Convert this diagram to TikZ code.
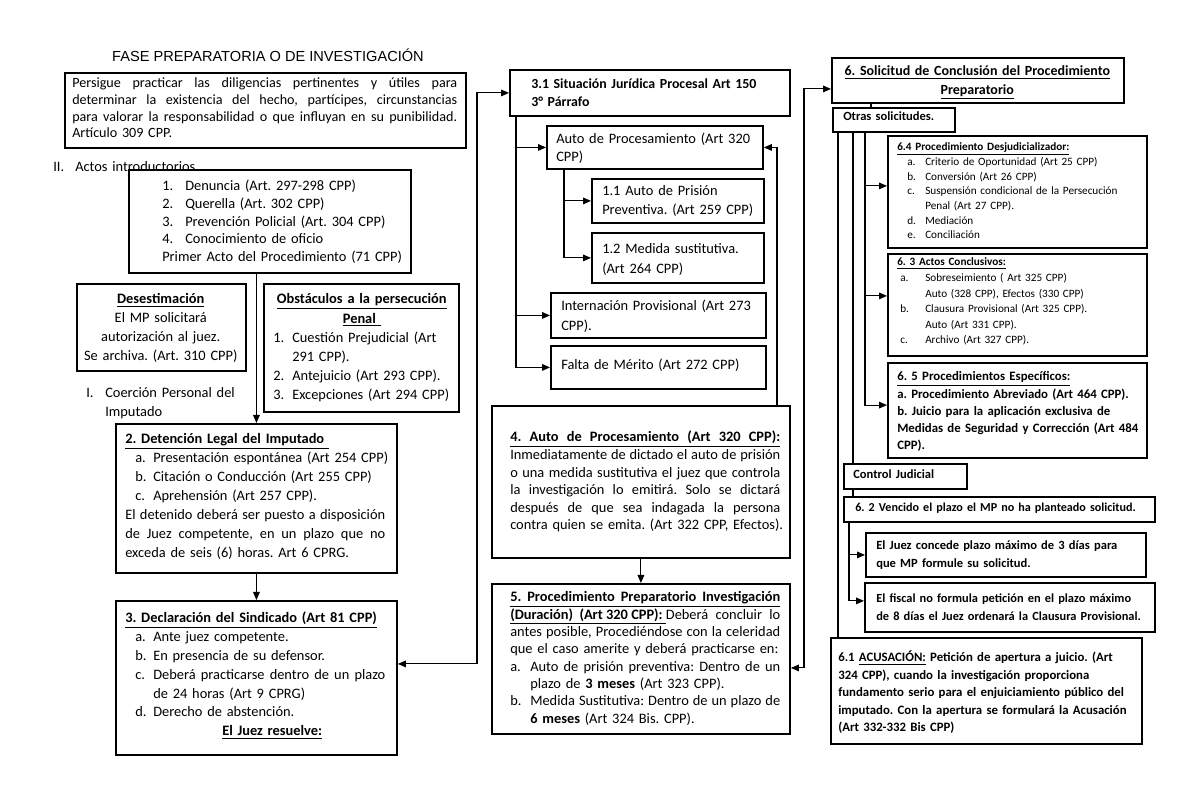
\documentclass[tikz,border=0pt]{standalone}
\usepackage{fontspec}
\setmainfont{Carlito}
\newfontfamily\titlefont{Liberation Sans}
\usetikzlibrary{arrows.meta}
\frenchspacing
\newcommand\fsz[2]{\fontsize{#1}{#2}\selectfont}
\newcommand\JL[1]{\makebox[\myjw pt][s]{\spaceskip=0pt\xspaceskip=0pt #1}}
\newcommand\CL[1]{\makebox[\myjw pt][c]{#1}}
\newcommand\LI[3]{\makebox[#1][l]{#2}#3}
\newcommand\JLI[3]{\makebox[#1][l]{#2}\makebox[\dimexpr\myjw pt-#1\relax][s]{\spaceskip=0pt\xspaceskip=0pt #3}}
\newcommand\mybx[5]{\pgfmathsetmacro\mybw{(#4-#2)*0.75}\pgfmathsetmacro\mybh{(#5-#3)*0.75}%
  \node[box,minimum width=\mybw pt,minimum height=\mybh pt,anchor=north west] (#1) at (#2,#3) {};}
\newcommand\mytx[6][]{\pgfmathsetmacro\myjw{#5*0.75}\pgfmathsetmacro\myjwx{#5*0.75+80}%
  \node[txt,text width=\myjwx pt,#1] (#2) at (#3,#4) {#6};}
\begin{document}
\begin{tikzpicture}[x=0.75pt,y=-0.75pt,
  box/.style={draw,line width=1.4pt,rectangle,inner sep=0pt},
  txt/.style={inner sep=0pt,align=left,anchor=base west},
  conn/.style={line width=0.8pt},
  arr/.style={conn,-{Triangle[length=6pt,width=5pt]}},
  darr/.style={conn,{Triangle[length=6pt,width=5pt]}-{Triangle[length=6pt,width=5pt]}}]
\useasboundingbox (0,0) rectangle (1200,787);

% ---------- column 1 ----------
\node[font=\titlefont\fsz{10.95}{12},inner sep=0pt] (title) at (268,55) {FASE PREPARATORIA O DE INVESTIGACIÓN};
\mybx{intro}{64}{72}{465}{147}
\mytx[font=\fsz{10.6}{12.4}]{introT}{72}{88}{385}{\JL{Persigue practicar las diligencias pertinentes y útiles para}\\
\JL{determinar la existencia del hecho, partícipes, circunstancias}\\
\JL{para valorar la responsabilidad o que influyan en su punibilidad.}\\
Artículo 309 CPP.}

\mytx[font=\fsz{10.8}{14}]{actosH}{53}{172}{200}{\LI{16.5pt}{II.}{Actos introductorios}}
\mybx{act}{128}{169}{410}{272}
\mytx[font=\fsz{10.8}{13.2}]{actT}{162}{191}{240}{\LI{17.25pt}{1.}{Denuncia (Art. 297-298 CPP)}\\
\LI{17.25pt}{2.}{Querella (Art. 302 CPP)}\\
\LI{17.25pt}{3.}{Prevención Policial (Art. 304 CPP)}\\
\LI{17.25pt}{4.}{Conocimiento de oficio}\\
Primer Acto del Procedimiento (71 CPP)}

\mybx{des}{76}{283}{245}{370}
\mytx[font=\fsz{10.8}{14.25}]{desT}{81}{304}{159}{\CL{\textbf{\underline{Desestimación}}}\\
\CL{El MP solicitará}\\ \CL{autorización al juez.}\\ \CL{Se archiva. (Art. 310 CPP)}}

\mybx{obs}{263}{283}{458}{411}
\mytx[font=\fsz{10.8}{14.4}]{obsT}{273}{304}{177}{\CL{\textbf{\underline{Obstáculos a la persecución}}}\\
\CL{\textbf{\underline{Penal\ }}}\\
\LI{14.25pt}{1.}{Cuestión Prejudicial (Art}\\
\hspace*{14.25pt}291 CPP).\\
\LI{14.25pt}{2.}{Antejuicio (Art 293 CPP).}\\
\LI{14.25pt}{3.}{Excepciones (Art 294 CPP)}}

\mytx[font=\fsz{10.8}{14}]{coerT}{86}{398}{150}{\LI{14.25pt}{I.}{Coerción Personal del}\\ \hspace*{14.25pt}Imputado}

\mybx{det}{115}{423}{396}{572}
\mytx[font=\fsz{10.8}{14.25}]{detT}{125}{444}{260}{\textbf{\underline{2. Detención Legal del Imputado\ }}\\
\LI{21pt}{\hspace*{7.5pt}a.}{Presentación espontánea (Art 254 CPP)}\\
\LI{21pt}{\hspace*{7.5pt}b.}{Citación o Conducción (Art 255 CPP)}\\
\LI{21pt}{\hspace*{7.5pt}c.}{Aprehensión (Art 257 CPP).}\\
\JL{El detenido deberá ser puesto a disposición}\\
\JL{de Juez competente, en un plazo que no}\\
exceda de seis (6) horas. Art 6 CPRG.}

\mybx{dec}{115}{600}{396}{754}
\mytx[font=\fsz{10.8}{14.1}]{decT}{125}{623}{260}{\textbf{\underline{3. Declaración del Sindicado (Art 81 CPP)}}\\
\LI{21pt}{\hspace*{7.5pt}a.}{Ante juez competente.}\\
\LI{21pt}{\hspace*{7.5pt}b.}{En presencia de su defensor.}\\
\JLI{21pt}{\hspace*{7.5pt}c.}{Deberá practicarse dentro de un plazo}\\
\hspace*{21pt}de 24 horas (Art 9 CPRG)\\
\LI{21pt}{\hspace*{7.5pt}d.}{Derecho de abstención.}\\
\hspace*{72.75pt}\textbf{\underline{El Juez resuelve:}}}

% ---------- column 2 ----------
\mybx{s31}{509}{69}{789}{115}
\mytx[font=\fsz{10.4}{13.5}\bfseries]{s31T}{531}{89}{245}{3.1 Situación Jurídica Procesal Art 150\\ 3° Párrafo}

\mybx{ap}{546}{125}{762}{168}
\mytx[font=\fsz{10.8}{13.5}]{apT}{556}{144}{200}{Auto de Procesamiento (Art 320\\ CPP)}
\mybx{m11}{591}{178}{763}{222}
\mytx[font=\fsz{10.8}{13.8}]{m11T}{602}{196}{160}{1.1 Auto de Prisión\\ Preventiva. (Art 259 CPP)}
\mybx{m12}{591}{232}{763}{282}
\mytx[font=\fsz{10.8}{14.5}]{m12T}{602}{254}{160}{1.2 Medida sustitutiva.\\ (Art 264 CPP)}
\mybx{int}{550}{292}{765}{337}
\mytx[font=\fsz{10.8}{14.5}]{intT}{561}{311}{200}{Internación Provisional (Art 273\\ CPP).}
\mybx{fal}{550}{345}{765}{388}
\mytx[font=\fsz{10.8}{14}]{falT}{561}{370}{200}{Falta de Mérito (Art 272 CPP)}

\mybx{n4}{491}{405}{789}{557}
\mytx[font=\fsz{10.8}{13.2}]{n4T}{510}{442}{270}{\underline{\textbf{\JL{4. Auto de Procesamiento (Art 320 CPP):}}}\\
\JL{Inmediatamente de dictado el auto de prisión}\\
\JL{o una medida sustitutiva el juez que controla}\\
\JL{la investigación lo emitirá. Solo se dictará}\\
\JL{después de que sea indagada la persona}\\
contra quien se emita. (Art 322 CPP, Efectos).}

\mybx{n5}{491}{583}{789}{733}
\mytx[font=\fsz{10.8}{13}]{n5T}{510}{602}{270}{\underline{\textbf{\JL{5. Procedimiento Preparatorio Investigación}}}\\
\JL{\textbf{\underline{(Duración)\ \ (Art 320 CPP):\ }}Deberá concluir lo}\\
\JL{antes posible, Procediéndose con la celeridad}\\
que el caso amerite y deberá practicarse en:\\
\JLI{15pt}{a.}{Auto de prisión preventiva: Dentro de un}\\
\hspace*{15pt}plazo de \textbf{3 meses} (Art 323 CPP).\\
\JLI{15pt}{b.}{Medida Sustitutiva: Dentro de un plazo de}\\
\hspace*{15pt}\textbf{6 meses} (Art 324 Bis. CPP).}

% ---------- column 3 ----------
\mybx{b6}{831}{57}{1123}{102}
\mytx[font=\fsz{10.5}{13.75}\bfseries]{b6T}{842}{76}{270}{\CL{\underline{6. Solicitud de Conclusión del Procedimiento}}\\ \CL{\underline{Preparatorio}}}
\mybx{otr}{832}{107}{954}{131}
\mytx[font=\fsz{9.4}{12}\bfseries]{otrT}{843}{121}{110}{Otras solicitudes.}

\mybx{b64}{887}{135}{1146}{247}
\mytx[font=\fsz{8.4}{11}]{b64T}{897}{151}{240}{\textbf{\underline{6.4 Procedimiento Desjudicializador:}}\\
\LI{21pt}{\hspace*{7.5pt}a.}{Criterio de Oportunidad (Art 25 CPP)}\\
\LI{21pt}{\hspace*{7.5pt}b.}{Conversión (Art 26 CPP)}\\
\LI{21pt}{\hspace*{7.5pt}c.}{Suspensión condicional de la Persecución}\\
\hspace*{21pt}Penal (Art 27 CPP).\\
\LI{21pt}{\hspace*{7.5pt}d.}{Mediación}\\
\LI{21pt}{\hspace*{7.5pt}e.}{Conciliación}}

\mybx{b63}{887}{253}{1146}{355}
\mytx[font=\fsz{8.4}{11.7}]{b63T}{897}{266}{240}{\textbf{\underline{6. 3 Actos Conclusivos:}}\\
\LI{21pt}{\hspace*{2.25pt}a.}{Sobreseimiento ( Art 325 CPP)}\\
\hspace*{21pt}Auto (328 CPP), Efectos (330 CPP)\\
\LI{21pt}{\hspace*{2.25pt}b.}{Clausura Provisional (Art 325 CPP).}\\
\hspace*{21pt}Auto (Art 331 CPP).\\
\LI{21pt}{\hspace*{2.25pt}c.}{Archivo (Art 327 CPP).}}

\mybx{b65}{887}{362}{1146}{457}
\mytx[font=\fsz{9.6}{12.9}\bfseries]{b65T}{897}{381}{245}{\underline{6. 5 Procedimientos Específicos:}\\
a. Procedimiento Abreviado (Art 464 CPP).\\
b. Juicio para la aplicación exclusiva de\\
Medidas de Seguridad y Corrección (Art 484\\
CPP).}

\mybx{cj}{843}{463}{966}{488}
\mytx[font=\fsz{9.4}{12}\bfseries]{cjT}{853}{479}{110}{Control Judicial}
\mybx{v62}{843}{496}{1154}{521}
\mytx[font=\fsz{9.1}{12}\bfseries]{v62T}{855}{512}{295}{6. 2 Vencido el plazo el MP no ha planteado solicitud.}
\mybx{jz}{865}{532}{1145}{576}
\mytx[font=\fsz{9.4}{13.3}\bfseries]{jzT}{876}{550}{265}{El Juez concede plazo máximo de 3 días para\\ que MP formule su solicitud.}
\mybx{fi}{864}{582}{1154}{631}
\mytx[font=\fsz{9.3}{12.8}\bfseries]{fiT}{876}{603}{275}{El fiscal no formula petición en el plazo máximo\\ de 8 días el Juez ordenará la Clausura Provisional.}
\mybx{a61}{830}{637}{1141}{743}
\mytx[font=\fsz{9.6}{13.1}\bfseries]{a61T}{838}{662}{300}{6.1 \underline{ACUSACIÓN:} Petición de apertura a juicio. (Art\\
324 CPP), cuando la investigación proporciona\\
fundamento serio para el enjuiciamiento público del\\
imputado. Con la apertura se formulará la Acusación\\
(Art 332-332 Bis CPP)}

% ---------- connectors ----------
\coordinate (xA) at (516,0);
\coordinate (xB) at (564,0);
\coordinate (xC) at (777,0);
\coordinate (xD) at (477,0);
\coordinate (xE) at (804,0);
\coordinate (xF) at (871,0);
\coordinate (xG) at (838,0);
\coordinate (xH) at (853,0);
\coordinate (xI) at (865,0);
\coordinate (xJ) at (849,0);
\coordinate (decout) at ([yshift=10.5pt]dec.east);
\coordinate (n5out) at ([yshift=-6.75pt]n5.east);
\coordinate (b6in) at ([yshift=-6.4pt]b6.west);
\coordinate (p64) at ([yshift=4.5pt]b64.west);
\coordinate (p63) at ([yshift=6.75pt]b63.west);
\coordinate (p65) at ([yshift=4pt]b65.west);
\coordinate (pfi) at ([yshift=4.9pt]fi.west);

\draw[arr] (act.south -| det.north) -- (det.north);
\draw[arr] (det.south) -- (dec.north);
\draw[darr] (decout) -| (xD |- s31.west) -- (s31.west);

\draw[arr] (xA |- s31.south) |- (fal.west);
\draw[arr] (xA |- ap.west) -- (ap.west);
\draw[arr] (xA |- int.west) -- (int.west);
\draw[arr] (xB |- ap.south) |- (m12.west);
\draw[arr] (xB |- m11.west) -- (m11.west);
\draw[arr] (xC |- n4.north) |- (ap.east);
\draw[arr] (n4.south) -- (n5.north);
\draw[darr] (n5out) -| (xE |- b6in) -- (b6in);

\draw[conn] (xF |- b6.south) -- (xF |- otr.north);
\draw[conn] (xG |- otr.south) -- (xG |- a61.north);
\draw[conn] (xH |- otr.south) -- (xH |- cj.north);
\draw[conn] (xH |- cj.south) -- (xH |- v62.north);
\draw[arr] (xI |- otr.south) |- (p65);
\draw[arr] (xI |- p64) -- (p64);
\draw[arr] (xI |- p63) -- (p63);
\draw[arr] (xJ |- v62.south) |- (pfi);
\draw[arr] (xJ |- jz.west) -- (jz.west);
\end{tikzpicture}
\end{document}
